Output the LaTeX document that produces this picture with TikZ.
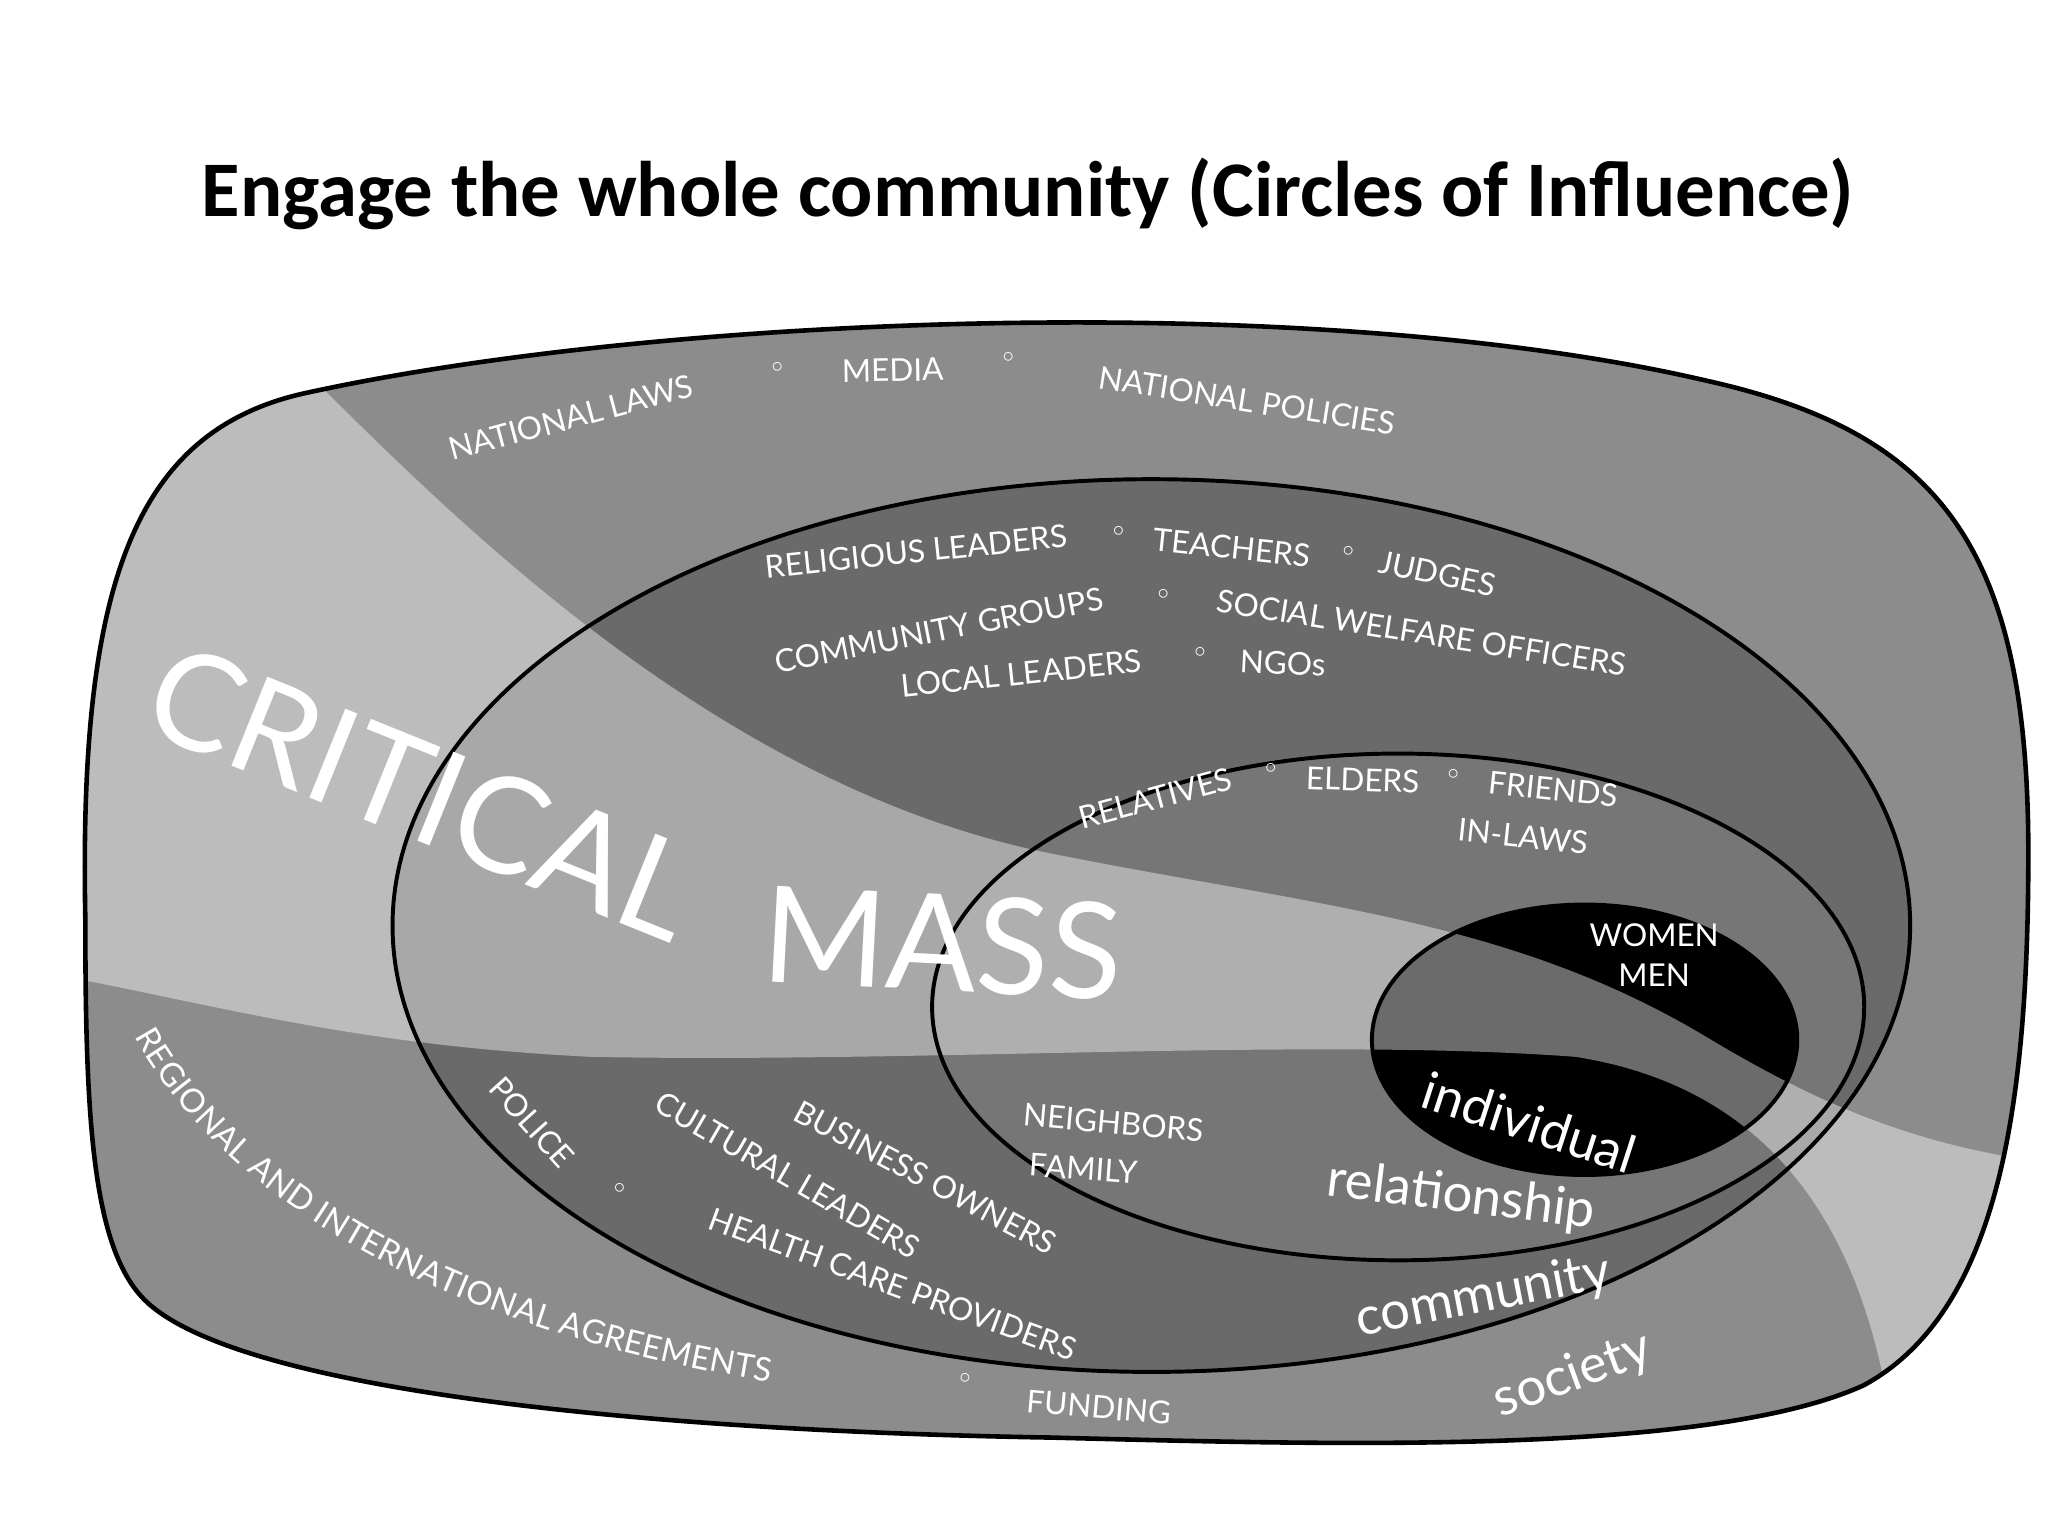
\documentclass[tikz,border=0pt]{standalone}
\usepackage{fontspec}
\setmainfont{Lato}
\newfontfamily\titlefont{Carlito}
\usetikzlibrary{decorations.text}
\definecolor{soc}{HTML}{8C8C8C}
\definecolor{com}{HTML}{6A6A6A}
\definecolor{rel}{HTML}{767676}
\tikzset{
 lab/.style={text=white,font=\fontsize{24}{26}\selectfont,inner sep=0pt},
 dot/.style={text=white,font=\fontsize{18}{18}\selectfont,inner sep=0pt},
 big/.style={text=white,font=\fontsize{102}{102}\selectfont,inner sep=0pt},
 low/.style={text=white,font=\fontsize{40}{40}\selectfont,inner sep=0pt},
 ring/.style={draw=black,line width=3pt}
}
\begin{document}
\begin{tikzpicture}[x=1pt,y=-1pt]
\useasboundingbox[fill=white] (0,0) rectangle (1560,1170);
\node[font=\titlefont\bfseries\fontsize{60}{64}\selectfont] (title) at (783,148) {Engage the whole community (Circles of Influence)};
\def\blob{(65,700) .. controls (60,450) and (100,330) .. (230,300) .. controls (500,240) and (1000,220) .. (1300,290) .. controls (1480,330) and (1545,420) .. (1545,650) .. controls (1545,850) and (1520,1000) .. (1420,1055) .. controls (1300,1110) and (1000,1100) .. (800,1095) .. controls (500,1090) and (180,1060) .. (110,990) .. controls (70,950) and (65,850) .. (65,700) -- cycle}
\fill[soc] \blob;
\fill[com] (877,705) ellipse [x radius=578, y radius=340];
\fill[rel] (1065,767) ellipse [x radius=355, y radius=193];
\fill[black] (1207,792) ellipse [x radius=162, y radius=103];
\begin{scope}
\clip \blob;
\fill[white,opacity=0.42] (230,280) .. controls (350,400) and (550,600) .. (800,650) .. controls (1000,690) and (1150,700) .. (1300,790) .. controls (1400,850) and (1480,880) .. (1600,890) -- (1600,1080) -- (1440,1080) .. controls (1420,950) and (1360,830) .. (1200,805) .. controls (1000,790) and (700,810) .. (450,805) .. controls (250,795) and (150,760) .. (0,735) -- (0,250) -- cycle;
\end{scope}
\draw[ring] (877,705) ellipse [x radius=578, y radius=340];
\draw[ring] (1065,767) ellipse [x radius=355, y radius=193];
\draw[ring] (1207,792) ellipse [x radius=162, y radius=103];
\draw[black,line width=3.5pt] \blob;
% society ring top
\node[lab,rotate=15] (nl) at (435,318) {NATIONAL LAWS};
\node[dot] (d1) at (592,280) {$\circ$};
\node[lab,rotate=1] (me) at (680,282) {MEDIA};
\node[dot] (d2) at (768,272) {$\circ$};
\node[lab,rotate=-9] (np) at (950,305) {NATIONAL POLICIES};
% community top
\node[lab,rotate=6] (rl) at (698,420) {RELIGIOUS LEADERS};
\node[dot] (d3) at (852,405) {$\circ$};
\node[lab,rotate=-6] (te) at (938,417) {TEACHERS};
\node[dot] (d4) at (1027,420) {$\circ$};
\node[lab,rotate=-12] (ju) at (1095,437) {JUDGES};
\node[lab,rotate=11] (cg) at (715,480) {COMMUNITY GROUPS};
\node[dot] (d5) at (886,453) {$\circ$};
\node[lab,rotate=-9] (sw) at (1083,482) {SOCIAL WELFARE OFFICERS};
\node[lab,rotate=6] (ll) at (778,513) {LOCAL LEADERS};
\node[dot] (d6) at (914,497) {$\circ$};
\node[lab,rotate=-3] (ng) at (977,505) {NGOs};
% critical mass
\node[big,rotate=-22] (cr) at (322,603) {CRITICAL};
\node[big,rotate=-3] (ms) at (718,718) {MASS};
% relationship
\node[lab,rotate=15] (re) at (880,608) {RELATIVES};
\node[dot] (d7) at (968,585) {$\circ$};
\node[lab,rotate=-2] (el) at (1038,594) {ELDERS};
\node[dot] (d8) at (1107,590) {$\circ$};
\node[lab,rotate=-6] (fr) at (1183,601) {FRIENDS};
\node[lab,rotate=-6] (il) at (1160,637) {IN-LAWS};
\node[lab] (wo) at (1260,712) {WOMEN};
\node[lab] (mn) at (1260,743) {MEN};
\node[low,rotate=-18] (ind) at (1165,855) {individual};
\node[lab,rotate=-5] (nb) at (848,855) {NEIGHBORS};
\node[lab,rotate=-4] (fa) at (825,890) {FAMILY};
\node[low,rotate=-7] (rs) at (1113,912) {relationship};
\node[low,rotate=11] (cm) at (1130,988) {community};
\node[low,rotate=20] (so) at (1198,1048) {society};
% community lower left
\node[lab,rotate=-48] (po) at (405,855) {POLICE};
\node[dot] (d9) at (472,905) {$\circ$};
\node[lab,rotate=-30] (cl) at (600,895) {CULTURAL LEADERS};
\node[lab,rotate=-28] (bo) at (705,897) {BUSINESS OWNERS};
\node[lab,rotate=-20] (hc) at (680,978) {HEALTH CARE PROVIDERS};
% society lower
\path[decorate,decoration={text along path,text color=white,text={|\fontsize{25}{27}\selectfont|REGIONAL AND INTERNATIONAL AGREEMENTS},raise=-9pt}]
 (110,785) .. controls (190,930) and (400,1030) .. (680,1055);
\node[dot] (d10) at (735,1050) {$\circ$};
\node[lab,rotate=-5] (fu) at (837,1072) {FUNDING};
\end{tikzpicture}
\end{document}
